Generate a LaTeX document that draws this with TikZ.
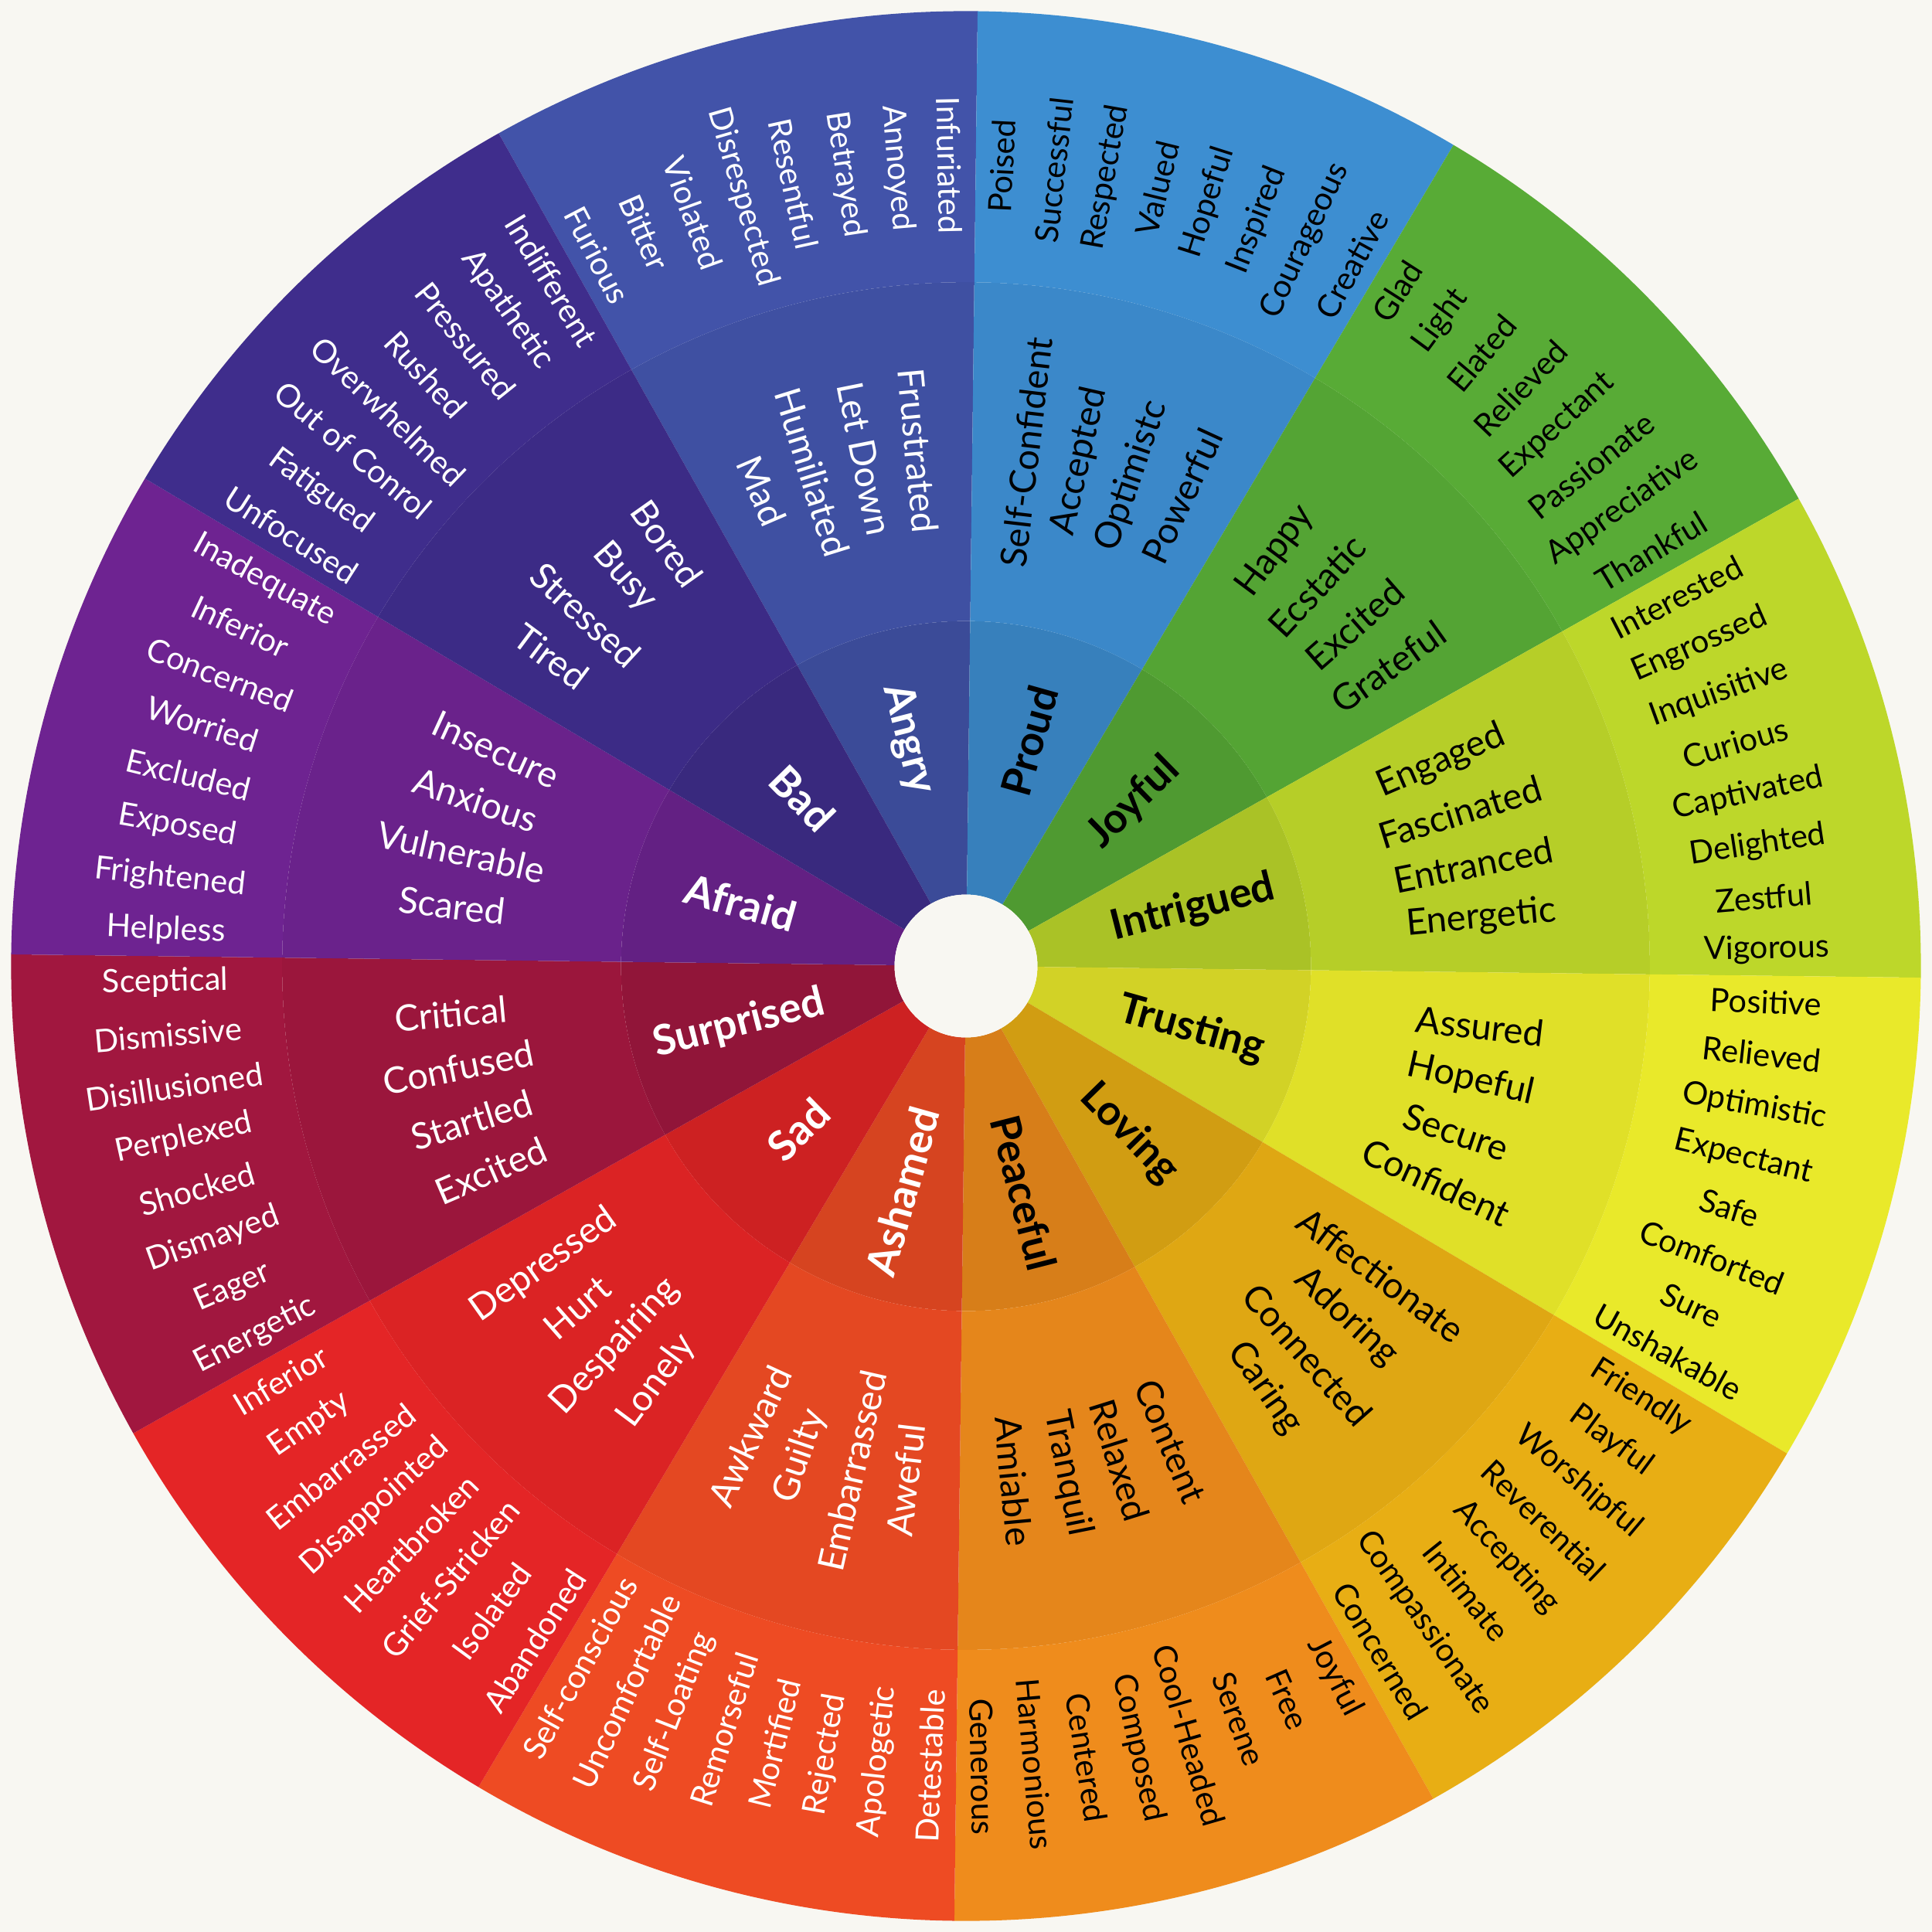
\documentclass[tikz,border=0pt]{standalone}
\usepackage{fontspec}
\setmainfont{Lato}
\definecolor{bg}{HTML}{F8F7F2}
\definecolor{cAngry}{HTML}{4253A9}
\definecolor{cProud}{HTML}{3D8ED1}
\definecolor{cJoyful}{HTML}{58AB36}
\definecolor{cIntrigued}{HTML}{BDD72A}
\definecolor{cTrusting}{HTML}{E9E92A}
\definecolor{cLoving}{HTML}{E8AE14}
\definecolor{cPeaceful}{HTML}{EF8C1C}
\definecolor{cAshamed}{HTML}{EE4B23}
\definecolor{cSad}{HTML}{E42526}
\definecolor{cSurprised}{HTML}{A1173F}
\definecolor{cAfraid}{HTML}{6E2391}
\definecolor{cBad}{HTML}{3F2D8C}
\tikzset{
  outerword/.style={font=\fontsize{7.4}{8}\selectfont, inner sep=0pt},
  midword/.style={font=\fontsize{8.4}{9}\selectfont, inner sep=0pt},
  coreword/.style={font=\fontsize{9.6}{10}\selectfont\bfseries, inner sep=0pt},
}
\newcommand\emosector[7]{%
  \fill[#3!90!black] (#2:58) arc[start angle=#2,end angle={#2+30},radius=58] -- ({#2+30}:280) arc[start angle={#2+30},end angle=#2,radius=280] -- cycle;
  \fill[#3!96!black] (#2:280) arc[start angle=#2,end angle={#2+30},radius=280] -- ({#2+30}:555) arc[start angle={#2+30},end angle=#2,radius=555] -- cycle;
  \fill[#3] (#2:555) arc[start angle=#2,end angle={#2+30},radius=555] -- ({#2+30}:775) arc[start angle={#2+30},end angle=#2,radius=775] -- cycle;
  \pgfmathsetmacro\ca{#2+15}
  \pgfmathsetmacro\cr{\ca-180*(\ca>90)+180*(\ca<-90)}
  \node[coreword, text=#4, rotate=\cr] (#1c) at (\ca:190) {#5};
  \foreach \w [count=\k] in {#6}{
    \pgfmathsetmacro\aa{#2+30*\k/5}
    \pgfmathsetmacro\rr{\aa-180*(\aa>90)+180*(\aa<-90)}
    \node[midword, text=#4, rotate=\rr] (#1m\k) at (\aa:420) {\w};
  }
  \foreach \w [count=\k] in {#7}{
    \pgfmathsetmacro\aa{#2+30*(\k-0.5)/8}
    \pgfmathsetmacro\rr{\aa-180*(\aa>90)+180*(\aa<-90)}
    \node[outerword, text=#4, rotate=\rr] (#1o\k) at (\aa:650) {\w};
  }
}
\begin{document}
\begin{tikzpicture}[x=0.1mm,y=0.1mm]
\fill[bg] (-784,-784) rectangle (784,784);
\useasboundingbox (-784,-784) rectangle (784,784);
\emosector{angry}{89.3}{cAngry}{white}{Angry}{Frustrated,Let Down,Humiliated,Mad}{Infuriated,Annoyed,Betrayed,Resentful,Disrespected,Violated,Bitter,Furious}
\emosector{proud}{59.3}{cProud}{black}{Proud}{Powerful,Optimistc,Accepted,Self-Confident}{Creative,Courageous,Inspired,Hopeful,Valued,Respected,Successful,Poised}
\emosector{joyful}{29.3}{cJoyful}{black}{Joyful}{Grateful,Excited,Ecstatic,Happy}{Thankful,Appreciative,Passionate,Expectant,Relieved,Elated,Light,Glad}
\emosector{intrigued}{-0.7}{cIntrigued}{black}{Intrigued}{Energetic,Entranced,Fascinated,Engaged}{Vigorous,Zestful,Delighted,Captivated,Curious,Inquisitive,Engrossed,Interested}
\emosector{trusting}{-30.7}{cTrusting}{black}{Trusting}{Confident,Secure,Hopeful,Assured}{Unshakable,Sure,Comforted,Safe,Expectant,Optimistic,Relieved,Positive}
\emosector{loving}{-60.7}{cLoving}{black}{Loving}{Caring,Connected,Adoring,Affectionate}{Concerned,Compassionate,Intimate,Accepting,Reverential,Worshipful,Playful,Friendly}
\emosector{peaceful}{-90.7}{cPeaceful}{black}{Peaceful}{Amiable,Tranquil,Relaxed,Content}{Generous,Harmonious,Centered,Composed,Cool-Headed,Serene,Free,Joyful}
\emosector{ashamed}{-120.7}{cAshamed}{white}{Ashamed}{Awkward,Guilty,Embarrassed,Aweful}{Self-conscious,Uncomfortable,Self-Loating,Remorseful,Mortified,Rejected,Apologetic,Detestable}
\emosector{sad}{-150.7}{cSad}{white}{Sad}{Depressed,Hurt,Despairing,Lonely}{Inferior,Empty,Embarrassed,Disappointed,Heartbroken,Grief-Stricken,Isolated,Abandoned}
\emosector{surprised}{179.3}{cSurprised}{white}{Surprised}{Critical,Confused,Startled,Excited}{Sceptical,Dismissive,Disillusioned,Perplexed,Shocked,Dismayed,Eager,Energetic}
\emosector{afraid}{149.3}{cAfraid}{white}{Afraid}{Insecure,Anxious,Vulnerable,Scared}{Inadequate,Inferior,Concerned,Worried,Excluded,Exposed,Frightened,Helpless}
\emosector{bad}{119.3}{cBad}{white}{Bad}{Bored,Busy,Stressed,Tired}{Indifferent,Apathetic,Pressured,Rushed,Overwhelmed,Out of Conrol,Fatigued,Unfocused}
\fill[bg] (0,0) circle (58);
\end{tikzpicture}
\end{document}
